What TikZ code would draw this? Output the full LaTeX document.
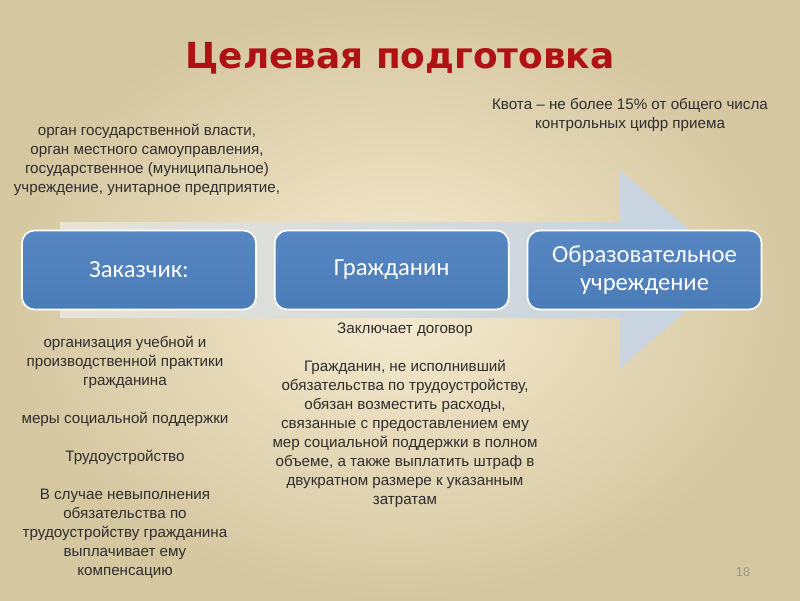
\documentclass[tikz,border=0pt]{standalone}
\usepackage{fontspec}
\setmainfont{Liberation Sans}
\newfontfamily\boxfont{Carlito}
\newfontfamily\titlefont{DejaVu Sans}
\usetikzlibrary{positioning}
\definecolor{bgin}{HTML}{F6EBD0}
\definecolor{bgout}{HTML}{D5C7A0}
\definecolor{titlered}{HTML}{AE1214}
\definecolor{boxtop}{HTML}{5787C2}
\definecolor{boxbot}{HTML}{4A7CB8}
\definecolor{arrowblue}{HTML}{C4D2E2}
\definecolor{bodytext}{HTML}{2E2E2E}
\definecolor{pagegray}{HTML}{9E9886}
\tikzset{
  stage/.style={rounded corners=9pt, draw=white, line width=1.2pt,
    top color=boxtop, bottom color=boxbot, text=white,
    minimum width=5.85cm, minimum height=1.975cm, align=center,
    font=\boxfont\fontsize{17.5}{20}\selectfont},
  note/.style={align=center, text=bodytext, inner sep=0pt,
    font=\fontsize{10.8}{13.5}\selectfont},
}
\begin{document}
\begin{tikzpicture}[x=0.025cm, y=-0.025cm]
  % background
  \shade[inner color=bgin, outer color=bgout] (0,0) rectangle (800,600);
  \useasboundingbox (0,0) rectangle (800,600);

  % title
  \node[text=titlered, font=\titlefont\bfseries\fontsize{25.5}{30}\selectfont] (title) at (400,58) {Целевая подготовка};

  % big arrow behind the boxes
  \shade[left color=arrowblue!30!bgin, right color=arrowblue]
    (60,222) -- (620,222) -- (620,170) -- (735,269) -- (620,368) -- (620,318) -- (60,318) -- cycle;

  % stages
  \node[stage] (zak) at (139,270) {Заказчик:};
  \node[stage, right=0.425cm of zak] (grazh) {Гражданин};
  \node[stage, right=0.425cm of grazh] (obr) {Образовательное\\учреждение};

  % notes
  \node[note, anchor=north] (zakabove) at (147,124) {орган государственной власти,\\орган местного самоуправления,\\государственное (муниципальное)\\учреждение, унитарное предприятие,};
  \node[note, anchor=north] (kvota) at (630,98) {Квота – не более 15\% от общего числа\\контрольных цифр приема};

  \node[note, anchor=north] (zakbelow) at (125,336) {организация учебной и\\производственной практики\\гражданина\\[13.5pt]меры социальной поддержки\\[13.5pt]Трудоустройство\\[13.5pt]В случае невыполнения\\обязательства по\\трудоустройству гражданина\\выплачивает ему\\компенсацию};
  \node[note, anchor=north] (grazhbelow) at (405,323) {Заключает договор\\[13.5pt]Гражданин, не исполнивший\\обязательства по трудоустройству,\\обязан возместить расходы,\\связанные с предоставлением ему\\мер социальной поддержки в полном\\объеме, а также выплатить штраф в\\двукратном размере к указанным\\затратам};

  % page number
  \node[text=pagegray, font=\fontsize{9}{10}\selectfont] (pagenum) at (743,572) {18};
\end{tikzpicture}
\end{document}
